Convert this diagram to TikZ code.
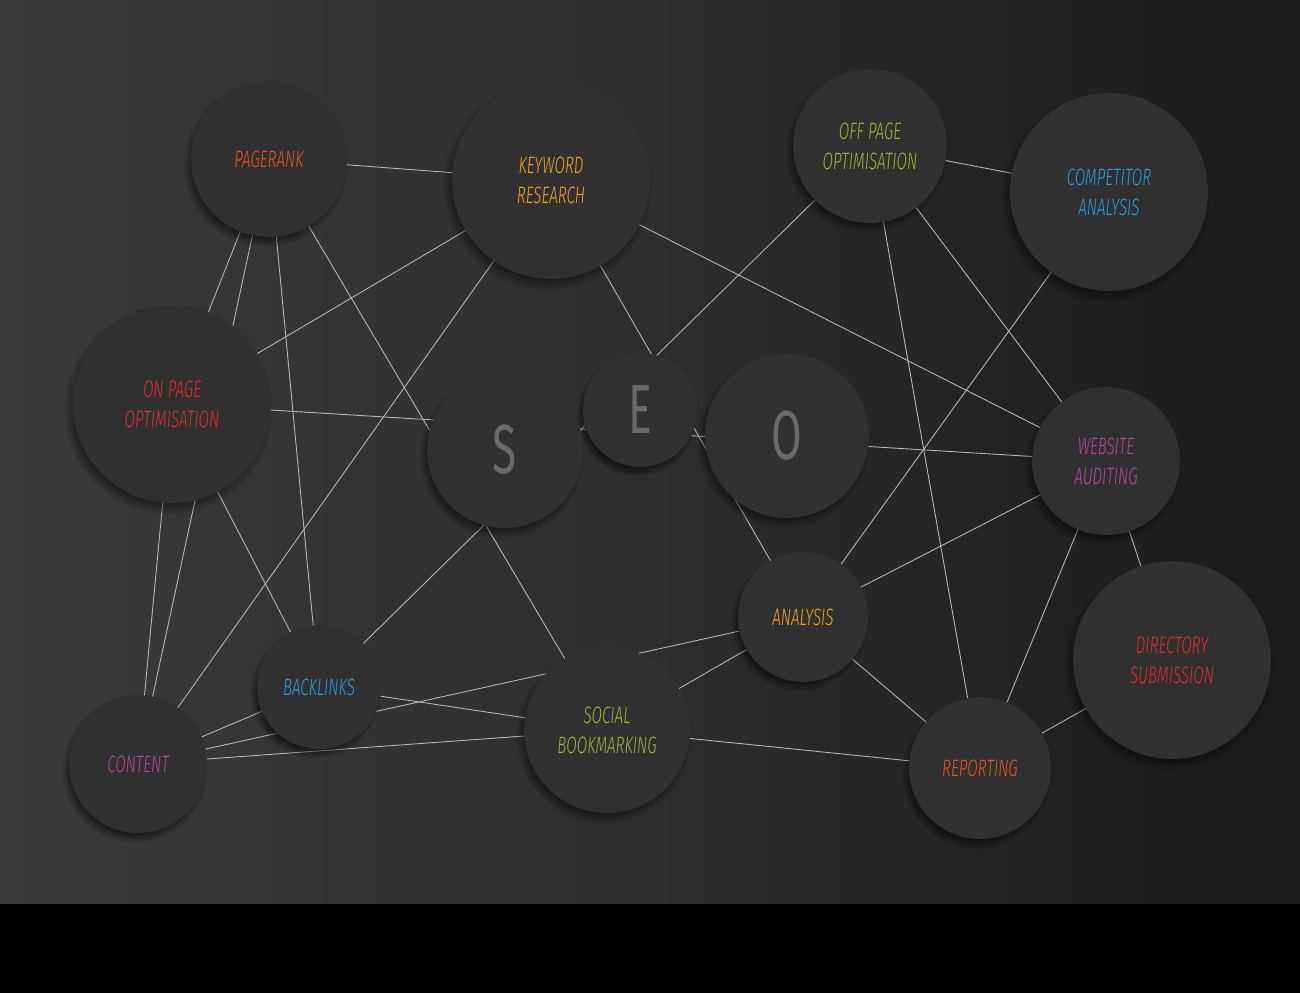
\documentclass[tikz,border=0pt]{standalone}
\usepackage{fontspec}
\newfontfamily\labelfont{Fira Sans Light}[ItalicFont=Fira Sans Light Italic,FakeStretch=0.64]
\newfontfamily\seofont{Fira Sans}[FakeStretch=0.64]
\usetikzlibrary{shadows,positioning}
\definecolor{bgleft}{HTML}{3A3A3A}
\definecolor{bgmid}{HTML}{2D2D2D}
\definecolor{bgright}{HTML}{1A1A1A}
\definecolor{bubblefill}{HTML}{303030}
\definecolor{linkgray}{HTML}{B8B8B8}
\definecolor{seogray}{HTML}{6A6A6A}
\definecolor{orangered}{HTML}{E8532B}
\definecolor{amber}{HTML}{F0A81C}
\definecolor{olive}{HTML}{9DB63B}
\definecolor{skyblue}{HTML}{2E9FD8}
\definecolor{brightred}{HTML}{E42A2E}
\definecolor{magenta}{HTML}{B5489A}
\pgfdeclarelayer{bg}
\pgfdeclarelayer{edges}
\pgfsetlayers{bg,edges,main}

\begin{document}
\begin{tikzpicture}[x=0.02cm,y=-0.02cm,
  bubble/.style={circle,inner sep=0pt,minimum size=#1*0.04cm,fill=bubblefill,
    circular drop shadow={fill=black,shadow xshift=-2pt,shadow yshift=-3pt,shadow scale=1.06,opacity=0.55},
    align=center,font=\labelfont\itshape\fontsize{13.5}{17}\selectfont},
  seo/.style={text=seogray,font=\seofont\fontsize{39.5}{40}\selectfont},
  link/.style={draw=linkgray,line width=0.5pt}]
  \useasboundingbox (0,0) rectangle (1300,993);
  \begin{pgfonlayer}{bg}
    \shade[left color=bgleft,right color=bgright,middle color=bgmid] (0,0) rectangle (1300,904);
    \fill[black] (0,904) rectangle (1300,993);
  \end{pgfonlayer}
  \node[bubble=57,seo] (e) at (640,410) {E};
  \node[bubble=78,seo] (s) at (505,450) {S};
  \node[bubble=82,seo] (o) at (787,436) {O};
  \node[bubble=78,text=orangered] (pagerank) at (269,159) {PAGERANK};
  \node[bubble=99,text=amber] (keyword) at (551,180) {KEYWORD\\RESEARCH};
  \node[bubble=77,text=olive] (offpage) at (870,146) {OFF PAGE\\OPTIMISATION};
  \node[bubble=99,text=skyblue] (competitor) at (1109,192) {COMPETITOR\\ANALYSIS};
  \node[bubble=99,text=brightred] (onpage) at (172,404) {ON PAGE\\OPTIMISATION};
  \node[bubble=74,text=magenta] (website) at (1106,461) {WEBSITE\\AUDITING};
  \node[bubble=65,text=amber] (analysis) at (803,617) {ANALYSIS};
  \node[bubble=99,text=brightred] (directory) at (1172,660) {DIRECTORY\\SUBMISSION};
  \node[bubble=62,text=skyblue] (backlinks) at (319,687) {BACKLINKS};
  \node[bubble=69,text=magenta] (content) at (138,764) {CONTENT};
  \node[bubble=83,text=olive] (social) at (607,730) {SOCIAL\\BOOKMARKING};
  \node[bubble=71,text=orangered] (reporting) at (980,768) {REPORTING};
  \begin{pgfonlayer}{edges}
    \foreach \a/\b in {pagerank/keyword,pagerank/onpage,pagerank/content,pagerank/backlinks,
      pagerank/social,keyword/onpage,keyword/content,keyword/website,keyword/analysis,
      offpage/competitor,offpage/backlinks,offpage/reporting,offpage/website,
      competitor/analysis,onpage/website,onpage/content,onpage/backlinks,
      website/analysis,website/reporting,website/directory,analysis/reporting,
      analysis/social,analysis/content,reporting/directory,social/reporting,
      backlinks/social,content/backlinks,content/social}
      \draw[link] (\a.center) -- (\b.center);
  \end{pgfonlayer}
\end{tikzpicture}
\end{document}
